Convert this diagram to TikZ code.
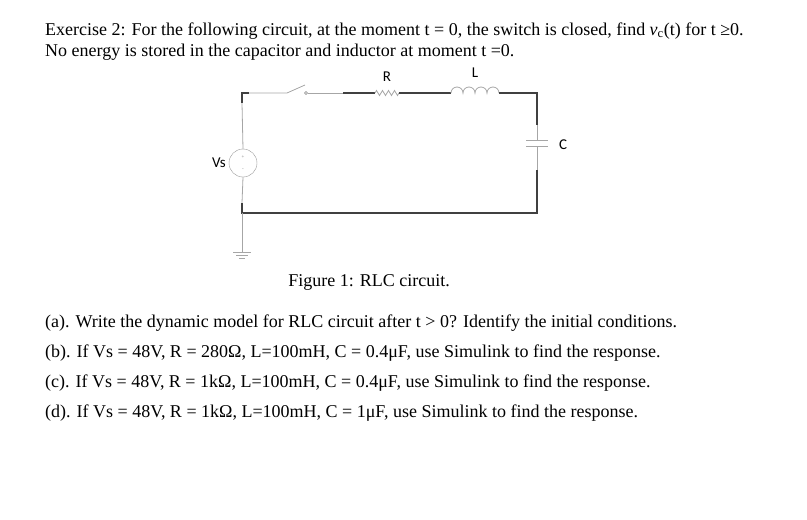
\documentclass[tikz,border=0pt]{standalone}
\usepackage{fontspec}
\setmainfont{Liberation Serif}
\newfontfamily\lab{Carlito}
\usetikzlibrary{decorations.pathmorphing}
\begin{document}
\begin{tikzpicture}[x=1pt,y=-1pt,
  txt/.style={anchor=west,inner sep=0,font=\fontsize{18}{20}\selectfont},
  lbl/.style={inner sep=0,font=\lab\fontsize{15}{17}\selectfont},
  dk/.style={draw=black!75,line width=1.4pt},
  lt/.style={draw=black!35,line width=0.8pt}]
\useasboundingbox (0,0) rectangle (807,520);
\node[txt] (t1) at (45,31) {Exercise 2: For the following circuit, at the moment t = 0, the switch is closed, find \textit{v}\textsubscript{c}(t) for t ≥0.};
\node[txt] (t2) at (45,52) {No energy is stored in the capacitor and inductor at moment t =0.};
\coordinate (tl) at (242,93);
\coordinate (bl) at (242,213);
\coordinate (tr) at (537,93);
\coordinate (br) at (537,213);
\node[draw=black!40,circle,minimum size=28pt,inner sep=0] (vs) at (243,163) {};
\node[font=\fontsize{5}{5}\selectfont,text=black!50,inner sep=0] (pl) at (243,157) {+};
\node[font=\fontsize{5}{5}\selectfont,text=black!50,inner sep=0] (mi) at (243,170) {-};
\node[lbl,anchor=east] (vsl) at (226,163) {Vs};
\draw[dk] (242,103) -- (tl) -- (249,93);
\draw[lt] (249,93) -- (287,93) -- (305,85);
\node[draw=black!50,circle,inner sep=0,minimum size=3pt] (sw) at (306,93) {};
\draw[lt] (sw) -- (343,93);
\draw[lt] (242,103) -- (vs.north);
\draw[lt] (vs.south) -- (242,203);
\draw[dk] (242,203) -- (bl) -- (br) -- (537,203);
\draw[dk] (343,93) -- (375,93);
\draw[lt] (375,93) decorate[decoration={zigzag,segment length=6pt,amplitude=2.5pt}] {-- (399,93)};
\node[lbl] (rl) at (387,77) {R};
\draw[dk] (399,93) -- (451,93);
\draw[lt] (451,93) arc(180:360:6) arc(180:360:6) arc(180:360:6) arc(180:360:6);
\node[lbl] (ll) at (475,73) {L};
\draw[dk] (499,93) -- (tr) -- (537,125);
\draw[lt] (537,125) -- (537,140) (526,140) -- (548,140) (526,146) -- (548,146) (537,146) -- (537,170);
\draw[dk] (537,170) -- (537,203);
\node[lbl] (cl) at (563,145) {C};
\draw[lt] (bl) -- (242,252) (233,252) -- (251,252) (236,255) -- (248,255) (239,258) -- (245,258);
\node[inner sep=0,font=\fontsize{18}{20}\selectfont] (cap) at (369,282) {Figure 1: RLC circuit.};
\node[txt] (a) at (45,323) {(a). Write the dynamic model for RLC circuit after t > 0? Identify the initial conditions.};
\node[txt] (b) at (45,353) {(b). If Vs = 48V, R = 280Ω, L=100mH, C = 0.4μF, use Simulink to find the response.};
\node[txt] (c) at (45,383) {(c). If Vs = 48V, R = 1kΩ, L=100mH, C = 0.4μF, use Simulink to find the response.};
\node[txt] (d) at (45,413) {(d). If Vs = 48V, R = 1kΩ, L=100mH, C = 1μF, use Simulink to find the response.};
\end{tikzpicture}
\end{document}
